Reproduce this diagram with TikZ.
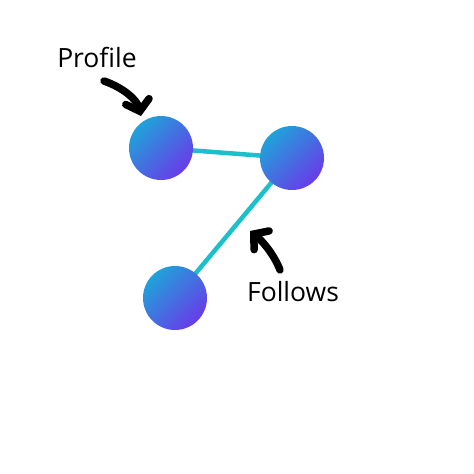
\documentclass[tikz,border=0pt]{standalone}
\usepackage{fontspec}
\setmainfont{Open Sans}
\usetikzlibrary{arrows.meta}
\definecolor{dotA}{RGB}{32,162,218}
\definecolor{dotB}{RGB}{104,60,232}
\definecolor{link}{RGB}{28,192,202}

\begin{document}
\begin{tikzpicture}[%
  x=1pt, y=-1pt,
  dot/.style={circle, minimum size=64pt, inner sep=0pt,
    left color=dotA, right color=dotB, shading angle=45},
  edge/.style={draw=link, line width=4.5pt},
  pointer/.style={line width=7.5pt, line cap=round,
    -{Straight Barb[length=10pt, width=24pt, line cap=round]}},
  tlabel/.style={font=\fontsize{26.5}{30}\selectfont}]
\useasboundingbox (0,0) rectangle (474,474);
% accounts
\coordinate (c1) at (161,148);
\coordinate (c2) at (292,158);
\coordinate (c3) at (175,298);
\draw[edge] (c1) -- (c2) -- (c3);
\node[dot] (me) at (c1) {};
\node[dot] (other) at (c2) {};
\node[dot] (third) at (c3) {};
% labels
\node[tlabel] (profile) at (97,57) {Profile};
\node[tlabel] (follows) at (293,292) {Follows};
\coordinate (ptail) at (104,81);
\coordinate (ptip) at (141,116);
\coordinate (ftail) at (280,270);
\coordinate (ftip) at (250,231);
\draw[pointer] (ptail) .. controls (124,88) and (137,100) .. (ptip);
\draw[pointer] (ftail) .. controls (273,252) and (260,239) .. (ftip);
\end{tikzpicture}
\end{document}
